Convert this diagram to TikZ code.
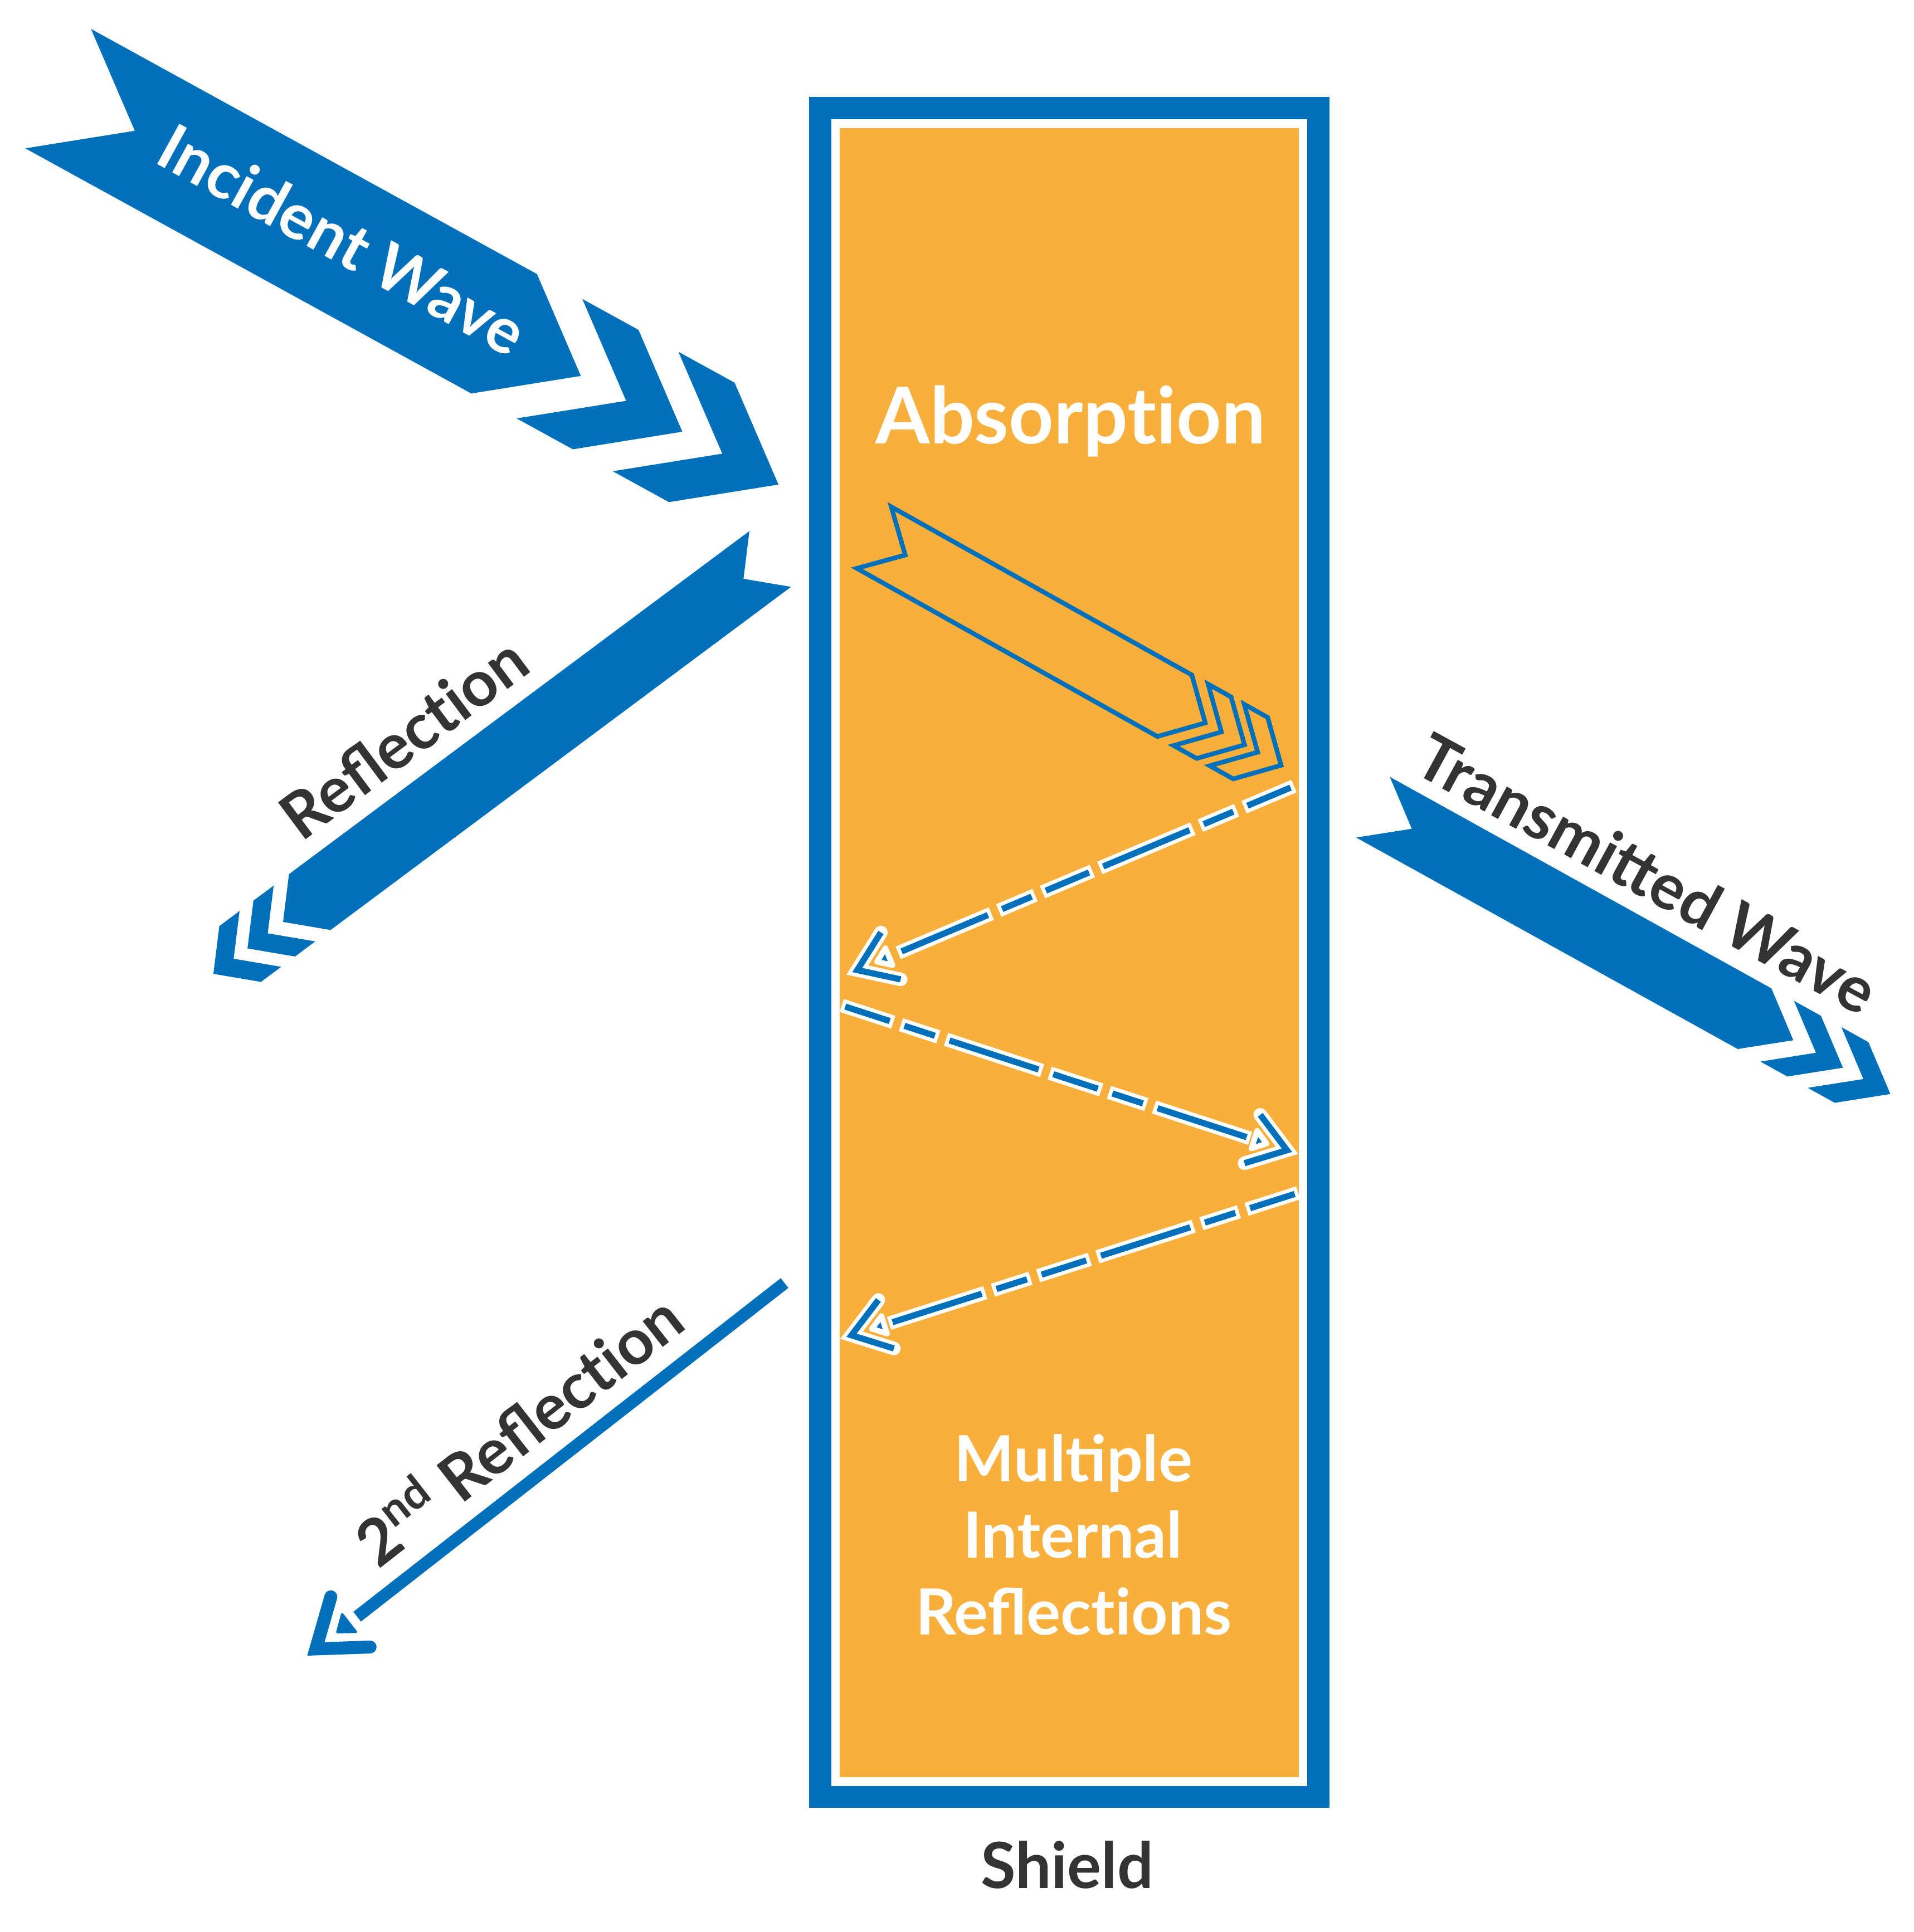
\documentclass[tikz,border=0pt]{standalone}
\usepackage{fontspec}
\setmainfont{Lato}
\usetikzlibrary{calc}
\definecolor{shblue}{HTML}{0070BA}
\definecolor{shorange}{HTML}{F9AF3C}
\definecolor{shdark}{HTML}{333333}
\newcommand{\nolig}{\kern0pt }
\begin{document}
\begin{tikzpicture}[x=0.1mm,y=-0.1mm,
  ribbon/.style={fill=shblue, draw=none},
  outlineribbon/.style={draw=shblue, line width=0.37mm, line join=miter},
  dashwhite/.style={white, line width=1.1mm, dash pattern=on 4.4mm off 0.65mm on 3.2mm off 0.65mm on 8.2mm off 0.65mm},
  dashblue/.style={shblue, line width=0.5mm, dash pattern=on 3.8mm off 1.25mm on 2.6mm off 1.25mm on 7.6mm off 1.25mm},
  headwhite/.style={white, line width=1.1mm, line cap=round, line join=miter},
  headblue/.style={shblue, line width=0.5mm, line join=miter},
  tipwhite/.style={draw=white, fill=shblue, line width=0.45mm, line join=round},
  lbl/.style={font=\bfseries\fontsize{14.7}{17.7}\selectfont, inner sep=0pt},
  biglbl/.style={font=\bfseries\fontsize{18.1}{22}\selectfont, inner sep=0pt}
]
\useasboundingbox (0,0) rectangle (1553,1568);

% ---------- shield ----------
\fill[shblue] (656.6,78.8) rectangle (1078.7,1467.3);
\fill[white] (674.4,96.7) rectangle (1060.9,1449.7);
\fill[shorange] (681.4,104) rectangle (1053.7,1442.5);

% ---------- incident wave ----------
\begin{scope}[rotate=-28.8]
  \fill[ribbon] (76,-15) -- (489,-15) -- (560,40.3) -- (489,95.6) -- (76,95.6) -- (147,40.3) -- cycle;
  \fill[ribbon] (531,-15) -- (583,-15) -- (654,40.3) -- (583,95.6) -- (531,95.6) -- (602,40.3) -- cycle;
  \fill[ribbon] (620,-15) -- (672,-15) -- (743,40.3) -- (672,95.6) -- (620,95.6) -- (691,40.3) -- cycle;
\end{scope}

% ---------- transmitted wave ----------
\begin{scope}[rotate=-29.0]
  \fill[ribbon] (1292,4.7) -- (1646,4.7) -- (1682,32.9) -- (1646,61) -- (1292,61) -- (1328,32.9) -- cycle;
  \fill[ribbon] (1667,4.7) -- (1692,4.7) -- (1728,32.9) -- (1692,61) -- (1667,61) -- (1703,32.9) -- cycle;
  \fill[ribbon] (1711,4.7) -- (1736,4.7) -- (1772,32.9) -- (1736,61) -- (1711,61) -- (1747,32.9) -- cycle;
\end{scope}

% ---------- reflection ----------
\begin{scope}[rotate=-143.3]
  \fill[ribbon] (-230,-709) -- (236,-709) -- (263,-737.2) -- (236,-765.5) -- (-230,-765.5) -- (-203,-737.2) -- cycle;
  \fill[ribbon] (251.5,-709) -- (272,-709) -- (299,-737.2) -- (272,-765.5) -- (251.5,-765.5) -- (278.5,-737.2) -- cycle;
  \fill[ribbon] (286,-709) -- (306.5,-709) -- (333.5,-737.2) -- (306.5,-765.5) -- (286,-765.5) -- (313,-737.2) -- cycle;
\end{scope}

% ---------- absorption (outlined) ----------
\begin{scope}[rotate=-29.23]
  \draw[outlineribbon] (832,5.8) -- (1111.5,5.8) -- (1140,34.4) -- (1111.5,63) -- (832,63) -- (861,34.4) -- cycle;
  \draw[outlineribbon] (1126.6,5.8) -- (1148,5.8) -- (1176.5,34.4) -- (1148,63) -- (1126.6,63) -- (1155,34.4) -- cycle;
  \draw[outlineribbon] (1160.2,5.8) -- (1182,5.8) -- (1210.5,34.4) -- (1182,63) -- (1160.2,63) -- (1188.7,34.4) -- cycle;
\end{scope}

% ---------- internal dashed reflections ----------
\coordinate (s1) at (1050,638);    \coordinate (t1) at (686.8,791);
\coordinate (s2) at (683,816);     \coordinate (t2) at (1053.4,936.5);
\coordinate (s3) at (1053.4,968.1); \coordinate (t3) at (681.8,1086.6);
\foreach \i in {1,2,3}{
  \draw[dashwhite] (s\i) -- ($(s\i)!35mm!(t\i)$);
  \draw[dashblue] ($(s\i)!0.3mm!(t\i)$) -- ($(s\i)!34.7mm!(t\i)$);
  \coordinate (a\i) at ($(t\i)!0.96mm!(s\i)$);
  \coordinate (b\i) at ($(t\i)!3.75mm!(s\i)$);
  \coordinate (p\i) at ($(t\i)!2.7mm!(s\i)$);
  \draw[tipwhite] ($(b\i)!0.75mm!90:(t\i)$) -- (p\i) -- ($(b\i)!0.75mm!-90:(t\i)$) -- cycle;
  \draw[headwhite] ($(a\i)!3.6mm!35:(s\i)$) -- (a\i) -- ($(a\i)!3.6mm!-35:(s\i)$);
  \draw[headblue] ($(a\i)!3.6mm!35:(s\i)$) -- (a\i) -- ($(a\i)!3.6mm!-35:(s\i)$);
}

% ---------- 2nd reflection ----------
\coordinate (s4) at (636.6,1041.3); \coordinate (t4) at (249.3,1343.7);
\draw[shblue, line width=1mm] (s4) -- ($(s4)!44mm!(t4)$);
\coordinate (a4) at ($(t4)!0.89mm!(s4)$);
\coordinate (b4) at ($(t4)!4.3mm!(s4)$);
\coordinate (p4) at ($(t4)!3.1mm!(s4)$);
\filldraw[shblue, line width=0.2mm, line join=round] ($(b4)!0.9mm!90:(t4)$) -- (p4) -- ($(b4)!0.9mm!-90:(t4)$) -- cycle;
\draw[shblue, line width=1.05mm, line join=miter, line cap=round] ($(a4)!4.4mm!36:(s4)$) -- (a4) -- ($(a4)!4.4mm!-36:(s4)$);

% ---------- labels ----------
\node[lbl, text=white, rotate=-28.8, anchor=base] (incident) at (269,211) {Incident Wave};
\node[lbl, text=shdark, rotate=-28.6, anchor=base] (transmitted) at (1327.5,725.6) {Transmitted Wave};
\node[lbl, text=shdark, rotate=36.7, anchor=base] (reflection) at (338.8,613.8) {Reflect\nolig ion};
\node[lbl, text=shdark, rotate=38, anchor=base] (refl2) at (432.9,1175.6) {2\textsuperscript{nd} Reflect\nolig ion};
\node[biglbl, text=white, anchor=base] (absorption) at (868.6,360.2) {Absorpt\nolig ion};
\node[lbl, text=white, anchor=base] (mir1) at (871,1202.3) {Multiple};
\node[lbl, text=white, anchor=base] (mir2) at (870.5,1264.5) {Internal};
\node[lbl, text=white, anchor=base] (mir3) at (871.2,1326.6) {Reflect\nolig ions};
\node[lbl, text=shdark, anchor=base] (shield) at (865.8,1532.6) {Shield};
\end{tikzpicture}
\end{document}
